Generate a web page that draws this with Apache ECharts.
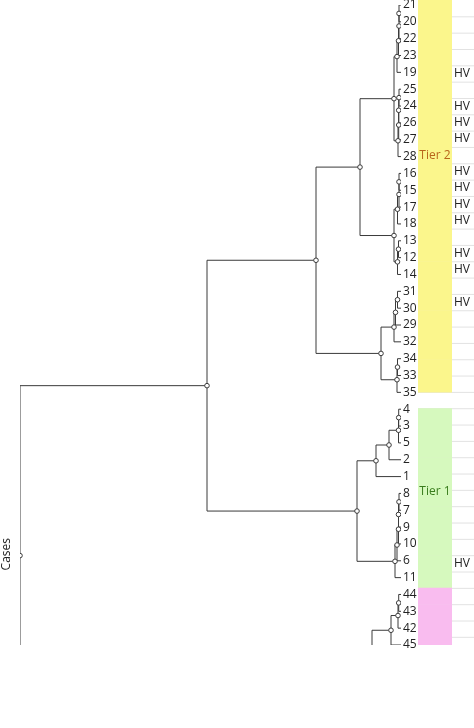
<!DOCTYPE html>
<html><head><meta charset="utf-8">
<script src="https://cdn.jsdelivr.net/npm/echarts@6/dist/echarts.min.js"></script>
<style>html,body{margin:0;padding:0;background:#fff}#c{width:474px;height:728px}</style>
</head><body><div id="c"></div>
<script>
// leaf order top to bottom
const leaves = ['21','20','22','23','19','25','24','26','27','28','16','15','17','18','13','12','14','31','30','29','32','34','33','35','4','3','5','2','1','8','7','9','10','6','11','44','43','42','45'];
// hidden leaves below the visible area (structure continues off-chart)
const hiddenLeaves = [['h41',41],['h46',46],['h47',47]];
// merges: [childA, childB, distance, nodeName]
const merges = [
 ['21','20',2,'a1'],['a1','22',2,'a2'],['a2','23',2.5,'a3'],['a3','19',4,'a4'],
 ['25','24',2,'a5'],['a5','26',2.3,'a6'],['a6','27',2.3,'a7'],['a7','28',3,'a8'],
 ['a4','a8',7,'A'],
 ['16','15',2,'b1'],['b1','17',2,'b2'],['b2','18',3.5,'b3'],
 ['13','12',2.5,'b4'],['b4','14',3.5,'b5'],['b3','b5',7,'B'],
 ['A','B',41,'AB'],
 ['31','30',3.5,'c1'],['c1','29',5.5,'c2'],['c2','32',7,'c3'],
 ['34','33',3.5,'c4'],['c4','35',4,'c5'],['c3','c5',20,'C'],
 ['AB','C',85,'ABC'],
 ['4','3',2.3,'d1'],['d1','5',2.5,'d2'],['d2','2',12,'d3'],['d3','1',25,'d4'],
 ['8','7',2,'d5'],['d5','9',2.5,'d6'],['d6','10',2.5,'d7'],['d7','6',4,'d8'],['d8','11',6,'d9'],
 ['d4','d9',44,'D'],['ABC','D',194,'T'],
 ['44','43',2.3,'e1'],['e1','42',3,'e2'],['e2','45',10,'e3'],['e3','h41',29,'E'],
 ['h46','h47',5,'H'],['E','H',300,'X'],['T','X',381,'R']
];
// side column cells (24 tier-2 rows, one blank, 11 tier-1 rows, 4 last rows)
const cellGroups = [['tier2',24],['blank',1],['tier1',11],['other',4]];
const hvLeaves = ['19','24','26','27','16','15','17','18','12','14','30','6'];
const tierLabels = [['Tier 2',9.5,'#b8651b'],['Tier 1',30.1,'#3a7d1e']];
const cellColors = {tier2:'#fbf68c',blank:'#ffffff',tier1:'#d6f9be',other:'#f9bcef'};

// build node positions
const pos = {};
leaves.forEach((l,i)=>pos[l]={row:i,d:0});
hiddenLeaves.forEach(([n,r])=>pos[n]={row:r,d:0});
merges.forEach(([a,b,d,n])=>pos[n]={row:(pos[a].row+pos[b].row)/2,d:d});

const cells = [];
cellGroups.forEach(([g,n])=>{for(let k=0;k<n;k++)cells.push(g);});
function cellOfLeaf(l){const r=leaves.indexOf(l);return r>=24?r+1:r;}

const LINE='#3a3a3a';
const chart = echarts.init(document.getElementById('c'));
chart.setOption({
 animation:false,
 grid:[{left:20,top:5,width:381,height:640},{left:418,top:-3,width:56,height:648}],
 xAxis:[{type:'value',min:0,max:381,inverse:true,show:false,gridIndex:0},
        {type:'value',min:0,max:56,show:false,gridIndex:1}],
 yAxis:[{type:'value',min:0,max:38,inverse:true,show:false,gridIndex:0},
        {type:'value',min:0,max:39.5,inverse:true,show:false,gridIndex:1}],
 graphic:[{type:'text',left:1,top:538,rotation:Math.PI/2,
   style:{text:'Cases',font:'12px "Open Sans"',fill:'#222'}}],
 series:[
  {type:'custom',xAxisIndex:1,yAxisIndex:1,clip:true,data:[0],z:1,
   renderItem:(p,api)=>{const ch=[];
     for(let i=1;i<=cells.length;i++){const a=api.coord([0,i]),b=api.coord([56,i]);
       ch.push({type:'line',shape:{x1:a[0],y1:a[1]+0.5,x2:b[0],y2:b[1]+0.5},style:{stroke:'#e2e2e2',lineWidth:1}});}
     return {type:'group',children:ch};}},
  {type:'custom',xAxisIndex:1,yAxisIndex:1,clip:true,data:cells.map((c,i)=>i),z:2,
   renderItem:(p,api)=>{const i=api.value(0);const g=cells[i];
     if(g==='blank')return null;
     const a=api.coord([0,i]),b=api.coord([34,i+1]);
     return {type:'rect',shape:{x:a[0],y:a[1],width:b[0]-a[0],height:b[1]-a[1]+0.6},style:{fill:cellColors[g]}};}},
  {type:'custom',xAxisIndex:1,yAxisIndex:1,clip:false,data:[0],z:3,
   renderItem:(p,api)=>{const ch=[];
     hvLeaves.forEach(l=>{const c=cellOfLeaf(l);const q=api.coord([36,c+0.5]);
       ch.push({type:'text',x:q[0],y:q[1],style:{text:'HV',font:'12px "Open Sans"',fill:'#222',verticalAlign:'middle'}});});
     tierLabels.forEach(([t,y,col])=>{const q=api.coord([17,y]);
       ch.push({type:'text',x:q[0],y:q[1],style:{text:t,font:'12px "Open Sans"',fill:col,align:'center',verticalAlign:'middle'}});});
     return {type:'group',children:ch};}},
  {type:'custom',xAxisIndex:0,yAxisIndex:0,clip:true,data:[0],z:4,
   renderItem:(p,api)=>{const ch=[];const circ=[];
     merges.forEach(([a,b,d,n])=>{
       const pa=pos[a],pb=pos[b],pn=pos[n];
       const va=api.coord([d,pa.row]),vb=api.coord([d,pb.row]);
       ch.push({type:'line',shape:{x1:va[0],y1:va[1],x2:vb[0],y2:vb[1]},style:{stroke:LINE,lineWidth:1}});
       [pa,pb].forEach(c=>{const s=api.coord([d,c.row]),e=api.coord([c.d,c.row]);
         ch.push({type:'line',shape:{x1:s[0],y1:s[1],x2:e[0],y2:e[1]},style:{stroke:LINE,lineWidth:1}});});
       const q=api.coord([d,pn.row]);
       circ.push({type:'circle',shape:{cx:q[0],cy:q[1],r:2.3},style:{fill:'#fff',stroke:LINE,lineWidth:1}});
     });
     return {type:'group',children:ch.concat(circ)};}},
  {type:'custom',xAxisIndex:0,yAxisIndex:0,clip:false,data:leaves.map((l,i)=>i),z:5,
   renderItem:(p,api)=>{const i=api.value(0);const q=api.coord([0,i]);
     return {type:'text',x:q[0]+2,y:q[1],style:{text:leaves[i],font:'12px "Open Sans"',fill:'#222',verticalAlign:'middle'}};}}
 ]
});
</script></body></html>
